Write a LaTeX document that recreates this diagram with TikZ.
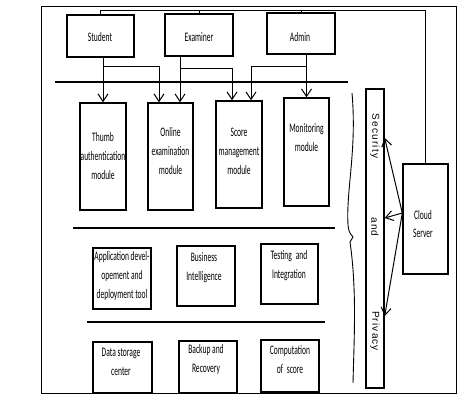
\documentclass[tikz,border=0pt]{standalone}
\usepackage{fontspec}
\setmainfont{Carlito}[FakeStretch=0.58]
\newfontfamily\secfont{Liberation Sans}[LetterSpace=12]
\usetikzlibrary{arrows.meta,calc}
\begin{document}
\begin{tikzpicture}[x=1pt,y=-1pt,
  box/.style={draw,line width=1.4pt,inner sep=0pt},
  txt/.style={align=center,inner sep=0pt,font=\fontsize{13}{19}\selectfont},
  conn/.style={line width=1pt},
  arr/.style={line width=1pt,-{Straight Barb[length=7.5pt,width=10pt,line width=1pt]}},
  bus/.style={line width=2.2pt}]
\useasboundingbox (0,0) rectangle (474,404);
% outer frame
\node[draw,line width=1pt,minimum width=415pt,minimum height=386pt,inner sep=0pt] (frame) at (248.5,200) {};
% users
\node[box,minimum width=67pt,minimum height=42pt] (student) at (100.5,36) {};
\node[box,minimum width=68pt,minimum height=42pt] (examiner) at (199,35) {};
\node[box,minimum width=68pt,minimum height=41pt] (admin) at (301,33.5) {};
\node[txt] (tstudent) at (100,37) {Student};
\node[txt] (texaminer) at (199,37) {Examiner};
\node[txt] (tadmin) at (300,37) {Admin};
% modules
\node[box,minimum width=46pt,minimum height=107pt] (thumb) at (103,156.5) {};
\node[box,minimum width=45pt,minimum height=107pt] (online) at (170.5,156.5) {};
\node[box,minimum width=46pt,minimum height=107pt] (score) at (239,154.5) {};
\node[box,minimum width=45pt,minimum height=108pt] (monitor) at (306.5,152) {};
\node[txt] (tthumb) at (103,156) {Thumb\\authentication\\module};
\node[txt] (tonline) at (170.5,151) {Online\\examination\\module};
\node[txt] (tscore) at (239,151) {Score\\management\\module};
\node[txt] (tmonitor) at (306.5,137.5) {Monitoring\\module};
% middle row
\node[box,minimum width=58pt,minimum height=61pt] (app) at (122,278.5) {};
\node[box,minimum width=58pt,minimum height=60pt] (bi) at (206,276) {};
\node[box,minimum width=57pt,minimum height=60pt] (test) at (289.5,274) {};
\node[txt] (tapp) at (122,276) {Application devel-\\opement and\\deployment tool};
\node[txt] (tbi) at (204,268) {Business\\Intelligence};
\node[txt] (ttest) at (289,266) {Testing\, and\\Integration};
% bottom row
\node[box,minimum width=59pt,minimum height=51pt] (data) at (122.5,367.5) {};
\node[box,minimum width=58pt,minimum height=52pt] (backup) at (208,367) {};
\node[box,minimum width=58pt,minimum height=52pt] (comp) at (290,366) {};
\node[txt] (tdata) at (121,362) {Data storage\\center};
\node[txt] (tbackup) at (206,360) {Backup and\\Recovery};
\node[txt] (tcomp) at (290,360) {Computation\\of\, score};
% security bar
\node[box,minimum width=18pt,minimum height=299pt] (sec) at (375,238.5) {};
\node[rotate=-90,inner sep=0pt,font=\secfont\fontsize{10}{11}\selectfont] (tsec1) at (375,136) {Security};
\node[rotate=-90,inner sep=0pt,font=\secfont\fontsize{10}{11}\selectfont] (tsec2) at (375,227) {and};
\node[rotate=-90,inner sep=0pt,font=\secfont\fontsize{10}{11}\selectfont] (tsec3) at (375,331) {Privacy};
% cloud server
\node[box,minimum width=45pt,minimum height=110pt] (cloud) at (425.5,219) {};
\node[txt,font=\fontsize{13}{18}\selectfont] (tcloud) at (423,224) {Cloud\\Server};
% bus lines
\draw[bus] (55,82) -- (348,82);
\draw[bus] (73,228) -- (335,228);
\draw[bus] (87,322) -- (325,322);
% top connection to cloud
\draw[conn] (student.north) -- (student.north |- 0,11) -- (cloud.north |- 0,11) -- (cloud.north);
\draw[conn] (examiner.north) -- (examiner.north |- 0,11);
\draw[conn] (admin.north) -- (admin.north |- 0,11);
% arrows
\coordinate (o1) at ([xshift=-11.5pt]online.north);
\coordinate (o2) at ([xshift=9.5pt]online.north);
\coordinate (s1) at ([xshift=-7pt]score.north);
\coordinate (s2) at ([xshift=12pt]score.north);
\draw[arr] (thumb.north |- student.south) -- (thumb.north);
\draw[arr] (thumb.north |- 0,67) -| (o1);
\draw[arr] (o2 |- examiner.south) -- (o2);
\draw[arr] (o2 |- 0,69) -| (s1);
\draw[arr] (monitor.north |- admin.south) -- (monitor.north);
\draw[arr] (monitor.north |- 0,67) -| (s2);
% cloud to security
\coordinate (cs) at ([yshift=6pt]cloud.west);
\draw[arr] (cs) -- ([yshift=100.5pt]sec.east);
\draw[arr] (cs) -- ([yshift=20.5pt]sec.east);
\draw[arr] (cs) -- ([yshift=-77.5pt]sec.east);
% brace
\draw[line width=0.9pt] (352,93) .. controls (357,150) and (346,190) .. (348,225)
  .. controls (349,232) .. (353,237) -- (350,242)
  .. controls (357,290) and (354,340) .. (353,383);
\end{tikzpicture}
\end{document}
